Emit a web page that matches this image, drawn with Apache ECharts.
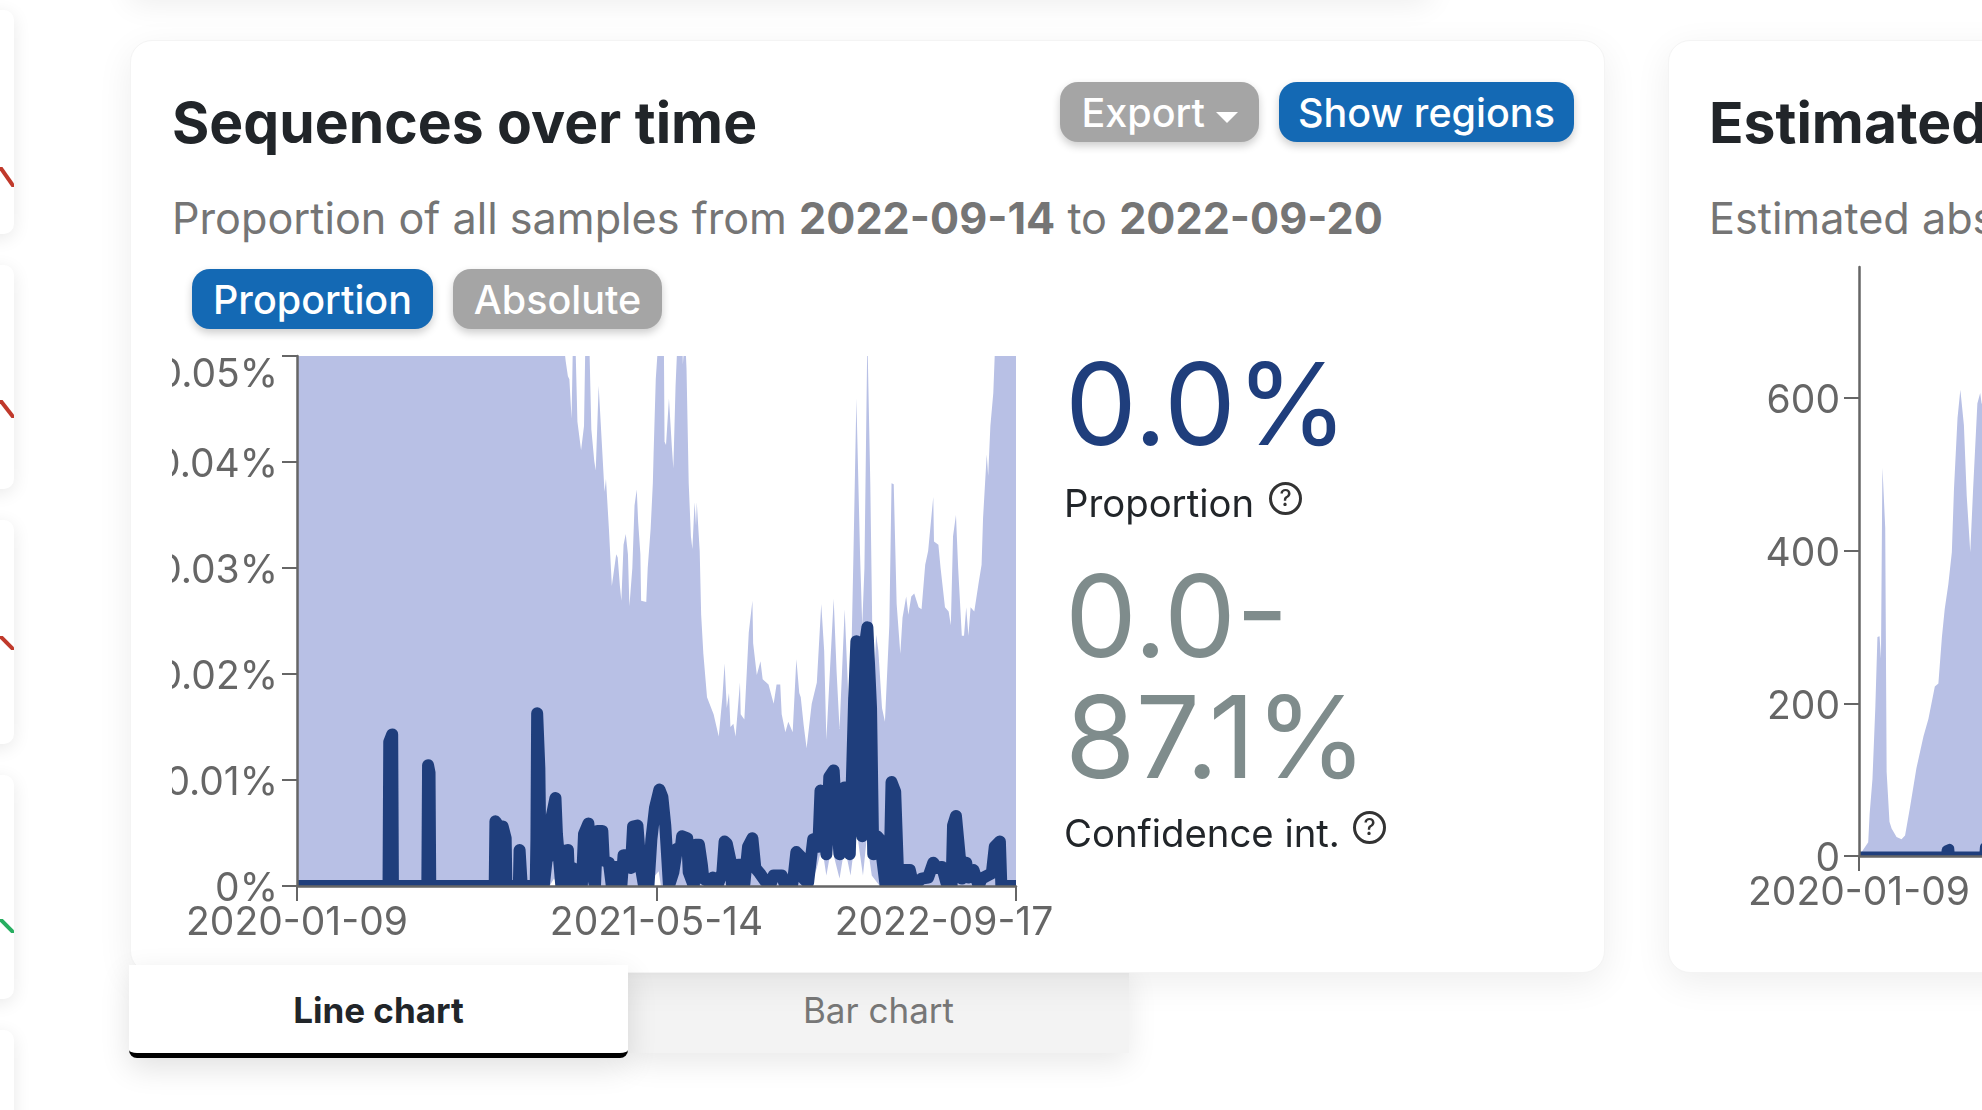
<!DOCTYPE html>
<html>
<head>
<meta charset="utf-8">
<title>Sequences over time</title>
<script src="https://cdn.jsdelivr.net/npm/echarts@6/dist/echarts.min.js"></script>
<style>
html, body { margin: 0; width: 1982px; height: 1110px; overflow: hidden; background: #fff; font-family: Inter, sans-serif; }
div, span { position: absolute; white-space: nowrap; }
b, i { position: static; }
.card { background: #fff; border: 1px solid #f4f4f4; border-radius: 22px; box-shadow: 0 10px 36px rgba(0,0,0,.07); box-sizing: border-box; }
.side { left: -40px; width: 54px; height: 224px; background: #fff; border-radius: 10px; box-shadow: 0 4px 18px rgba(0,0,0,.09); overflow: hidden; }
.title { font-size: 57px; font-weight: 700; color: #212529; line-height: 60px; }
.sub { font-size: 43.2px; color: #757575; line-height: 50px; }
.sub b { font-weight: 700; }
.btn { height: 60px; line-height: 62px; border-radius: 18px; color: #fff; font-size: 39.5px; font-weight: 500; text-align: center; box-shadow: 0 4px 8px rgba(0,0,0,.2); }
.blue { background: #1469b4; }
.grey { background: #a5a5a5; }
.stat { font-size: 114px; line-height: 121px; left: 1065px; }
.cap { font-size: 38.3px; line-height: 46px; left: 1064px; color: #212529; }
.help { width: 33px; height: 33px; box-sizing: border-box; border: 3px solid #333; border-radius: 50%; font-size: 23px; font-weight: 500; line-height: 27px; text-align: center; color: #333; }
.tab { text-align: center; font-size: 35px; line-height: 80px; }
</style>
</head>
<body>
<div style="left:130px;top:-60px;width:1300px;height:56px;box-shadow:0 8px 30px rgba(0,0,0,.07);background:#fff"></div>

<div class="side" style="top:10px"><div id="spark1" style="left:40px;top:157px;width:14px;height:20px"></div></div>
<div class="side" style="top:265px"><div id="spark2" style="left:40px;top:135px;width:14px;height:18px"></div></div>
<div class="side" style="top:520px"><div id="spark3" style="left:40px;top:116px;width:14px;height:14px"></div></div>
<div class="side" style="top:775px"><div id="spark4" style="left:40px;top:144px;width:14px;height:14px"></div></div>
<div class="side" style="top:1030px"></div>

<div class="tab" style="left:628px;top:965px;width:501px;height:88px;background:#f3f3f3;color:#777;box-shadow:0 10px 30px rgba(0,0,0,.09), inset 0 14px 14px -12px rgba(0,0,0,.1)"><span style="left:0;right:0;top:5px">Bar chart</span></div>

<div class="card" style="left:130px;top:40px;width:1475px;height:933px"></div>
<div class="card" style="left:1668px;top:40px;width:1475px;height:933px"></div>

<div class="tab" style="left:129px;top:965px;width:499px;height:93px;box-sizing:border-box;background:#fff;border-bottom:5px solid #000;border-radius:0 0 8px 8px;color:#212529;font-weight:700;box-shadow:0 10px 30px rgba(0,0,0,.12)"><span style="left:0;right:0;top:5px">Line chart</span></div>

<div class="title" style="left:172px;top:93px">Sequences over time</div>
<div class="sub" style="left:172px;top:193px">Proportion of all samples from <b>2022-09-14</b> to <b>2022-09-20</b></div>
<div class="btn grey" style="left:1060px;top:82px;width:199px">Export <i style="display:inline-block;width:0;height:0;border:11px solid transparent;border-top:11px solid #fff;border-bottom:0;vertical-align:4px"></i></div>
<div class="btn blue" style="left:1279px;top:82px;width:295px">Show regions</div>
<div class="btn blue" style="left:192px;top:269px;width:241px">Proportion</div>
<div class="btn grey" style="left:453px;top:269px;width:209px">Absolute</div>

<div id="proportionChart" style="left:172px;top:340px;width:900px;height:620px"></div>

<div class="stat" style="top:343px;color:#1f3e7c">0.0%</div>
<div class="cap" style="top:480px">Proportion</div>
<div class="help" style="left:1269px;top:482px">?</div>
<div class="stat" style="top:555px;color:#7f8c8c">0.0-<br>87.1%</div>
<div class="cap" style="top:810px">Confidence int.</div>
<div class="help" style="left:1353px;top:811px">?</div>

<div class="title" style="left:1709px;top:93px">Estimated cases</div>
<div class="sub" style="left:1709px;top:193px">Estimated absolute numbers</div>
<div id="absoluteChart" style="left:1700px;top:250px;width:1000px;height:700px"></div>

<script>
const xTickLabels = ['2020-01-09', '2021-05-14', '2022-09-17'];

// left chart, x values are days since 2020-01-09, y values are percent
const upperDays = [0, 363, 367, 370, 372, 375, 377, 380, 383, 388, 392, 394, 399, 402, 406, 408, 412, 414, 420, 422, 426, 430, 434, 436, 438, 441, 443, 446, 449, 452, 454, 458, 461, 464, 466, 469, 470, 477, 479, 483, 486, 487, 490, 494, 501, 502, 504, 508, 512, 514, 517, 520, 526, 527, 530, 532, 535, 538, 540, 543, 545, 546, 550, 552, 555, 560, 569, 576, 581, 584, 587, 590, 592, 596, 599, 605, 606, 611, 617, 622, 623, 628, 633, 636, 644, 651, 655, 660, 662, 667, 671, 677, 682, 686, 688, 692, 696, 703, 710, 716, 720, 723, 728, 733, 737, 741, 748, 753, 756, 760, 764, 769, 772, 775, 779, 783, 787, 791, 794, 799, 803, 805, 809, 812, 815, 819, 824, 827, 832, 835, 839, 843, 849, 853, 858, 862, 869, 870, 876, 879, 885, 890, 893, 896, 900, 903, 908, 911, 914, 917, 920, 925, 931, 935, 937, 942, 944, 947, 951, 954, 982];
const upperValues = [0.1, 0.052, 0.0495, 0.0481, 0.0478, 0.0441, 0.052, 0.052, 0.0438, 0.0411, 0.0434, 0.052, 0.052, 0.0431, 0.0401, 0.0392, 0.0472, 0.0471, 0.0372, 0.0384, 0.0337, 0.0283, 0.0303, 0.0313, 0.031, 0.0283, 0.0269, 0.0322, 0.0332, 0.0313, 0.0264, 0.03, 0.0359, 0.0374, 0.0343, 0.0313, 0.0269, 0.0268, 0.03, 0.0337, 0.038, 0.0407, 0.0478, 0.052, 0.052, 0.0419, 0.0416, 0.046, 0.0414, 0.0394, 0.0471, 0.052, 0.052, 0.0492, 0.052, 0.0488, 0.038, 0.033, 0.0318, 0.0362, 0.034, 0.0362, 0.0316, 0.0256, 0.0219, 0.0178, 0.0162, 0.0141, 0.0178, 0.021, 0.0168, 0.0182, 0.015, 0.0153, 0.0141, 0.0192, 0.0162, 0.0157, 0.0239, 0.0269, 0.0229, 0.0199, 0.0212, 0.0195, 0.019, 0.0172, 0.019, 0.019, 0.0162, 0.0145, 0.0155, 0.0145, 0.0214, 0.0182, 0.0178, 0.0152, 0.013, 0.0172, 0.0192, 0.0266, 0.0222, 0.0138, 0.0205, 0.0271, 0.0202, 0.0148, 0.0261, 0.0178, 0.0178, 0.0313, 0.046, 0.0313, 0.0246, 0.03, 0.052, 0.038, 0.0178, 0.0237, 0.0222, 0.0168, 0.0155, 0.0155, 0.0246, 0.038, 0.0379, 0.0266, 0.0219, 0.0253, 0.0273, 0.0256, 0.0273, 0.0276, 0.0263, 0.0261, 0.0303, 0.0316, 0.0367, 0.0325, 0.0322, 0.03, 0.0263, 0.0259, 0.0246, 0.033, 0.035, 0.03, 0.0236, 0.0236, 0.0263, 0.0236, 0.0263, 0.0259, 0.0286, 0.0303, 0.0347, 0.0407, 0.0387, 0.0434, 0.0465, 0.052, 0.1];

const lowerDays = [0, 345, 351, 357, 484, 489, 494, 497, 701, 710, 717, 723, 730, 741, 748, 756, 764, 773, 778, 785, 796, 982];
const lowerValues = [0, 0, 0.0007, 0, 0, 0.001, 0.0014, 0, 0, 0.0017, 0.0037, 0.001, 0.0037, 0.0007, 0.0037, 0.001, 0.0054, 0.001, 0.0044, 0.001, 0, 0];

const proportionDays = [0, 125, 126, 130, 131, 178, 179, 181, 182, 270, 271, 275, 281, 285, 286, 303, 304, 306, 307, 326, 327, 328, 331, 333, 337, 341, 347, 348, 353, 355, 361, 364, 370, 372, 376, 382, 389, 392, 398, 401, 407, 410, 417, 419, 426, 430, 435, 438, 443, 446, 452, 456, 459, 465, 469, 474, 480, 484, 489, 495, 499, 503, 508, 514, 519, 524, 526, 533, 535, 542, 544, 549, 553, 555, 565, 568, 574, 581, 584, 587, 592, 594, 599, 603, 608, 611, 616, 622, 626, 632, 639, 646, 651, 662, 667, 676, 679, 682, 689, 692, 698, 705, 709, 712, 715, 719, 723, 727, 733, 736, 741, 748, 750, 755, 761, 764, 768, 772, 776, 779, 784, 787, 792, 796, 804, 809, 812, 817, 821, 826, 830, 837, 842, 853, 862, 869, 874, 881, 887, 894, 896, 900, 903, 908, 914, 917, 924, 931, 935, 949, 953, 960, 962, 982];
const proportionValues = [0, 0, 0.0136, 0.0143, 0, 0, 0.0114, 0.0107, 0, 0, 0.0061, 0.0057, 0.0056, 0.0045, 0, 0, 0.0034, 0.0034, 0, 0, 0.0044, 0.0163, 0.0111, 0, 0, 0.0025, 0.003, 0.0066, 0.0083, 0.0049, 0, 0.0033, 0.0034, 0, 0.0017, 0.0015, 0, 0.0049, 0.0059, 0.002, 0, 0.0052, 0.0052, 0.0024, 0.0022, 0, 0.0018, 0.0018, 0, 0.0029, 0.0029, 0.0017, 0.0056, 0.0057, 0.002, 0, 0, 0.0044, 0.0074, 0.0091, 0.0084, 0.0057, 0, 0.0013, 0.0035, 0.0035, 0.0047, 0.0045, 0.0013, 0, 0.0039, 0.0039, 0.002, 0.0007, 0.0003, 0.0008, 0, 0.0013, 0.0042, 0.004, 0.0024, 0.0002, 0.0002, 0.002, 0.002, 0.0002, 0.0037, 0.0045, 0.0017, 0.0012, 0.0005, 0, 0.001, 0.001, 0, 0, 0.0013, 0.0032, 0.0027, 0.0007, 0.0003, 0.0044, 0.0045, 0.0037, 0.009, 0.0089, 0.003, 0.0103, 0.0109, 0.0071, 0.003, 0.0093, 0.0093, 0.003, 0.0178, 0.0231, 0.0178, 0.0047, 0.0229, 0.0244, 0.0168, 0.003, 0.0047, 0.0044, 0, 0, 0.0098, 0.0089, 0.001, 0, 0.0015, 0.0015, 0, 0.0007, 0.0008, 0.0022, 0.0017, 0.0018, 0.0003, 0, 0.0057, 0.0066, 0.0044, 0.0007, 0.0022, 0.0008, 0.0015, 0, 0.0007, 0.0012, 0.0037, 0.0042, 0, 0];

// right chart, only its left end is on the page
const casesUpperDays = [0, 13, 15, 19, 23, 26, 29, 31, 33, 34, 37, 39, 43, 46, 53, 60, 65, 72, 81, 91, 98, 107, 112, 117, 121, 126, 131, 134, 139, 143, 148, 152, 157, 161, 167, 171, 173, 180];
const casesUpperValues = [0, 18, 55, 101, 194, 287, 288, 259, 509, 491, 430, 110, 45, 36, 25, 22, 27, 64, 115, 157, 180, 222, 226, 287, 324, 356, 398, 481, 574, 611, 565, 472, 398, 481, 593, 607, 593, 590];
const casesDays = [0, 122, 123, 128, 129, 176, 177, 180];
const casesValues = [0, 0, 8, 10, 0, 0, 12, 14];
const casesTicks = [0, 200, 400, 600];

// bits of the neighbouring cards' sparklines that stick out on the left
const sparkValues = [[1, 0], [1, 0], [1, 0], [1, 0]];
const sparkColors = ['#c0392b', '#c0392b', '#c0392b', '#27ae60'];

const GREY = '#666';
const BAND = '#b8c0e5';
const NAVY = '#1f3e7c';
const FONT_SIZE = 39;

function pairs(xs, ys) {
    return xs.map((x, i) => [x, ys[i]]);
}

function xAxisOption() {
    return {
        type: 'value',
        min: 0,
        max: 982,
        interval: 491,
        z: 10,
        splitLine: { show: false },
        axisLine: { onZero: false, lineStyle: { color: GREY, width: 2.5 } },
        axisTick: { show: true, length: 15, lineStyle: { color: GREY, width: 2 } },
        axisLabel: {
            color: GREY,
            fontFamily: 'Inter',
            fontSize: FONT_SIZE,
            margin: 18,
            formatter: (value, index) => (index === 2 ? `{last|${xTickLabels[2]}}` : xTickLabels[index]),
            rich: { last: { color: GREY, fontFamily: 'Inter', fontSize: FONT_SIZE, padding: [0, 144, 0, 0] } },
        },
    };
}

function yAxisBase() {
    return {
        type: 'value',
        z: 10,
        splitLine: { show: false },
        axisLine: { show: true, lineStyle: { color: GREY, width: 2.5 } },
        axisTick: { show: true, length: 15, lineStyle: { color: GREY, width: 2 } },
    };
}

function lineSeries(data, width) {
    return {
        type: 'line',
        data,
        showSymbol: false,
        z: 5,
        lineStyle: { color: NAVY, width, join: 'round', cap: 'round' },
    };
}

function areaSeries(data, color, z) {
    return {
        type: 'line',
        data,
        showSymbol: false,
        z,
        lineStyle: { width: 0 },
        areaStyle: { color, opacity: 1 },
    };
}

// a line's clip area grows by half its width, so mask what spills out of the plot
function spillMask(grid) {
    const style = { fill: '#fff' };
    return [
        { type: 'rect', z: 6, shape: { x: grid.left - 8, y: grid.top, width: 8, height: grid.height + 8 }, style },
        { type: 'rect', z: 6, shape: { x: grid.left - 8, y: grid.top + grid.height, width: grid.width + 16, height: 8 }, style },
        { type: 'rect', z: 6, shape: { x: grid.left + grid.width, y: grid.top, width: 8, height: grid.height + 8 }, style },
    ];
}

const proportionGrid = { left: 125, top: 16, width: 719, height: 530, outerBoundsMode: 'none' };
const proportionChart = echarts.init(document.getElementById('proportionChart'));
proportionChart.setOption({
    animation: false,
    grid: proportionGrid,
    graphic: spillMask(proportionGrid),
    xAxis: xAxisOption(),
    yAxis: {
        ...yAxisBase(),
        min: 0,
        max: 0.05,
        interval: 0.01,
        axisLabel: {
            margin: 19,
            formatter: (value) => (value === 0.05 ? `{top|${value}%}` : `{tick|${value}%}`),
            rich: {
                top: { color: GREY, fontFamily: 'Inter', fontSize: FONT_SIZE, padding: [38, 0, 0, 0] },
                tick: { color: GREY, fontFamily: 'Inter', fontSize: FONT_SIZE, padding: [7, 0, 0, 0] },
            },
        },
    },
    series: [
        areaSeries(pairs(upperDays, upperValues), BAND, 2),
        areaSeries(pairs(lowerDays, lowerValues), '#fff', 3),
        lineSeries(pairs(proportionDays, proportionValues), 12),
    ],
});

const absoluteGrid = { left: 159, top: 17, width: 696, height: 589, outerBoundsMode: 'none' };
const absoluteChart = echarts.init(document.getElementById('absoluteChart'));
absoluteChart.setOption({
    animation: false,
    grid: absoluteGrid,
    graphic: spillMask(absoluteGrid),
    xAxis: xAxisOption(),
    yAxis: {
        ...yAxisBase(),
        min: 0,
        max: 772,
        axisTick: { show: true, length: 15, customValues: casesTicks, lineStyle: { color: GREY, width: 2 } },
        axisLabel: {
            margin: 19,
            customValues: casesTicks,
            formatter: (value) => `{tick|${value}}`,
            rich: { tick: { color: GREY, fontFamily: 'Inter', fontSize: FONT_SIZE, padding: [7, 0, 0, 0] } },
        },
    },
    series: [
        areaSeries(pairs(casesUpperDays, casesUpperValues), BAND, 2),
        lineSeries(pairs(casesDays, casesValues), 9),
    ],
});

sparkValues.forEach((values, i) => {
    const chart = echarts.init(document.getElementById(`spark${i + 1}`));
    chart.setOption({
        animation: false,
        grid: { left: 0, right: 0, top: 0, bottom: 0, outerBoundsMode: 'none' },
        xAxis: { type: 'category', show: false, boundaryGap: false },
        yAxis: { type: 'value', show: false, min: 0, max: 1 },
        series: [{ type: 'line', data: values, showSymbol: false, lineStyle: { color: sparkColors[i], width: 4 } }],
    });
});
</script>
</body>
</html>
